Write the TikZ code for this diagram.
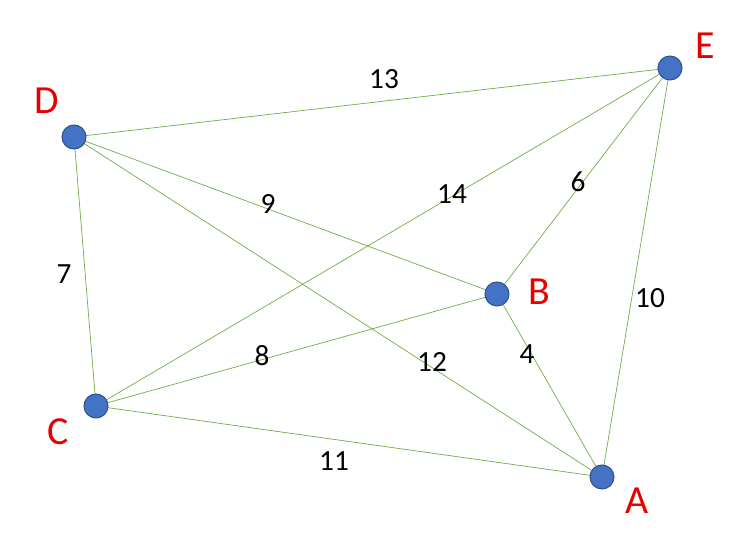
\documentclass[tikz,border=0pt]{standalone}
\usepackage{fontspec}
\setmainfont{Carlito}
\usetikzlibrary{positioning, backgrounds}
\definecolor{vblue}{HTML}{4472C4}
\definecolor{vedge}{HTML}{2F528F}
\definecolor{egreen}{HTML}{70AD47}
\definecolor{lred}{RGB}{230,0,0}

\begin{document}
\begin{tikzpicture}[x=0.03cm, y=-0.03cm,
  vertex/.style={circle, fill=vblue, draw=vedge, line width=0.9pt, minimum size=0.72cm, inner sep=0pt},
  vname/.style={text=lred, font=\fontsize{34}{36}\selectfont},
  wlabel/.style={font=\fontsize{25}{27}\selectfont},
  link/.style={egreen, line width=0.6pt}]
  \useasboundingbox (0,0) rectangle (748,541);

  % vertices
  \node[vertex] (E) at (670,68) {};
  \node[vertex] (D) at (74,137) {};
  \node[vertex] (B) at (497,294) {};
  \node[vertex] (C) at (96,406) {};
  \node[vertex] (A) at (602,477) {};

  \node[vname] (lE) at (705,46) {E};
  \node[vname] (lD) at (47,101) {D};
  \node[vname] (lB) at (539,292) {B};
  \node[vname] (lC) at (58,432) {C};
  \node[vname] (lA) at (637,501) {A};

  % edges, behind the vertices
  \begin{pgfonlayer}{background}
    \foreach \u/\v in {D/E, D/B, D/A, D/C, C/E, C/B, C/A, B/E, B/A, E/A}
      \draw[link] (\u.center) -- (\v.center);
  \end{pgfonlayer}

  % weights
  \node[wlabel] (w13) at (384,79) {13};
  \node[wlabel] (w14) at (452,194) {14};
  \node[wlabel] (w6) at (578,182) {6};
  \node[wlabel] (w9) at (268,204) {9};
  \node[wlabel] (w7) at (64,274) {7};
  \node[wlabel] (w10) at (650,298) {10};
  \node[wlabel] (w8) at (262,356) {8};
  \node[wlabel] (w12) at (432,362) {12};
  \node[wlabel] (w4) at (527,354) {4};
  \node[wlabel] (w11) at (334,461) {11};
\end{tikzpicture}
\end{document}
